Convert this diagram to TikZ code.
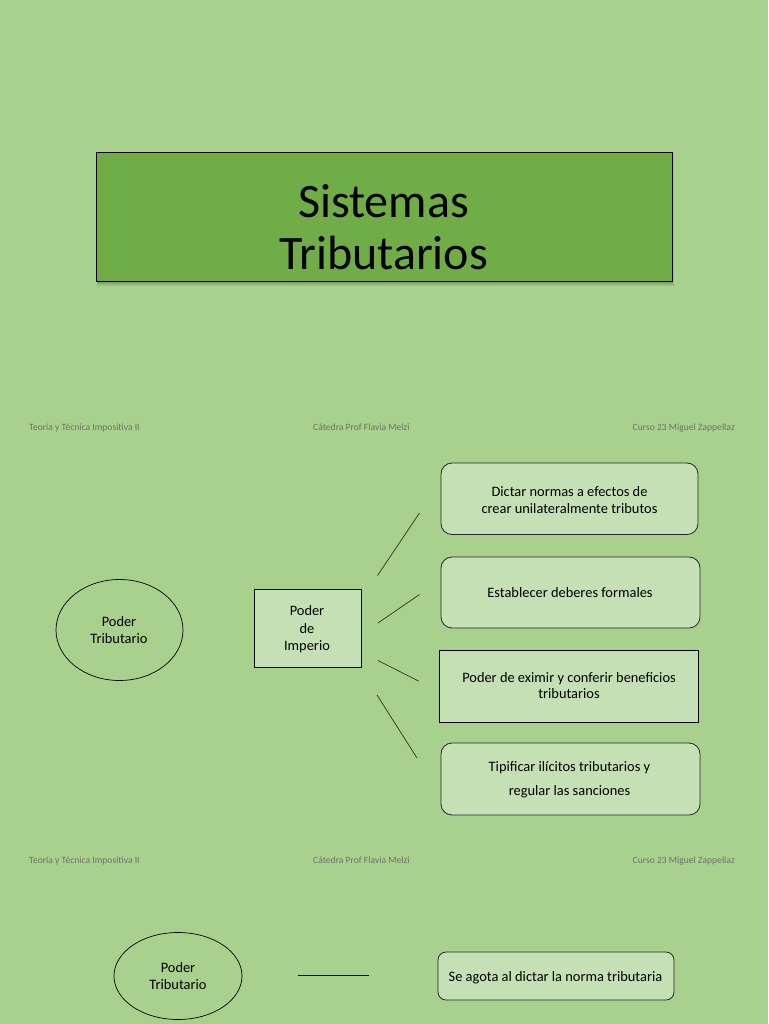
\documentclass[tikz,border=0pt]{standalone}
\usepackage{fontspec}
\setmainfont{Carlito}
\usetikzlibrary{shadows}
\definecolor{bgg}{HTML}{A9D18E}
\definecolor{dark}{HTML}{70AD47}
\definecolor{lite}{HTML}{C5E0B4}
\definecolor{foot}{HTML}{6F6F6F}
\tikzset{
  x=1pt,y=-1pt,
  txt/.style={font=\fontsize{14.4}{17}\selectfont,align=center,inner sep=0pt,text=black},
  rbox/.style={draw=black!85,line width=0.8pt,fill=lite,rounded corners=11pt},
  sbox/.style={draw=black,line width=0.7pt,fill=lite},
  oval/.style={draw=black,line width=0.7pt},
  link/.style={draw=black!75!bgg,line width=0.7pt},
  footer/.style={font=\fontsize{9.6}{10}\selectfont,text=foot,inner sep=0pt},
}
\newcommand{\footrow}[1]{%
  \node[footer,anchor=base west] (fa#1) at (29,#1+3) {Teoría y Técnica Impositiva II};
  \node[footer,anchor=base west] (fb#1) at (313,#1+3) {Cátedra Prof Flavia Melzi};
  \node[footer,anchor=base east] (fc#1) at (735,#1+3) {Curso 23 Miguel Zappellaz};
}
\begin{document}
\begin{tikzpicture}
\useasboundingbox (0,0) rectangle (768,1024);
\fill[bgg] (0,0) rectangle (768,1024);
% title
\fill[black!60,opacity=.2] (97,155) rectangle (674,285.5);
\fill[black!60,opacity=.3] (97,155) rectangle (673,284);
\draw[draw=black,line width=0.8pt,fill=dark] (96.5,152.5) rectangle (672.5,281.5);
\node[font=\fontsize{48}{52}\selectfont,align=center,inner sep=0pt,text=black] (title) at (383.5,227) {Sistemas\\Tributarios};
\footrow{427}
\footrow{860}
% middle
\draw[oval] (119.5,630) ellipse [x radius=63.5,y radius=50.5];
\node[txt] (pt1) at (119,630.5) {Poder\\Tributario};
\draw[sbox] (254,589) rectangle (361,667);
\node[txt,font=\fontsize{14.4}{17.5}\selectfont] (pi) at (307,629.5) {Poder\\de\\Imperio};
\draw[rbox] (441,463) rectangle (698,534.5);
\node[txt] (b1) at (569.5,500.5) {Dictar normas a efectos de\\crear unilateralmente tributos};
\draw[rbox] (441,557) rectangle (700,628);
\node[txt] (b2) at (570,593) {Establecer deberes formales};
\draw[sbox] (439.5,650) rectangle (698.5,722);
\node[txt,font=\fontsize{14.4}{15.5}\selectfont] (b3) at (569,685.5) {Poder de eximir y conferir beneficios\\tributarios};
\draw[rbox] (441,743) rectangle (700,815);
\node[txt,font=\fontsize{14.4}{24}\selectfont] (b4) at (569.5,779.5) {Tipificar ilícitos tributarios y\\regular las sanciones};
\coordinate (a1) at (377.5,575.5); \coordinate (e1) at (419.5,513);
\coordinate (a2) at (378,623); \coordinate (e2) at (419.5,594.5);
\coordinate (a3) at (378,660.5); \coordinate (e3) at (418.5,681);
\coordinate (a4) at (377,695); \coordinate (e4) at (417,758);
\draw[link] (a1) -- (e1);
\draw[link] (a2) -- (e2);
\draw[link] (a3) -- (e3);
\draw[link] (a4) -- (e4);
% bottom
\draw[oval] (178,976) ellipse [x radius=64,y radius=43.5];
\node[txt] (pt2) at (178,976.5) {Poder\\Tributario};
\draw[rbox,rounded corners=8pt] (438,952) rectangle (674,1000);
\node[txt] (b5) at (555.5,978) {Se agota al dictar la norma tributaria};
\coordinate (c1) at (298,975.5); \coordinate (c2) at (369,975.5);
\draw[draw=black,line width=0.7pt] (c1) -- (c2);
\end{tikzpicture}
\end{document}
